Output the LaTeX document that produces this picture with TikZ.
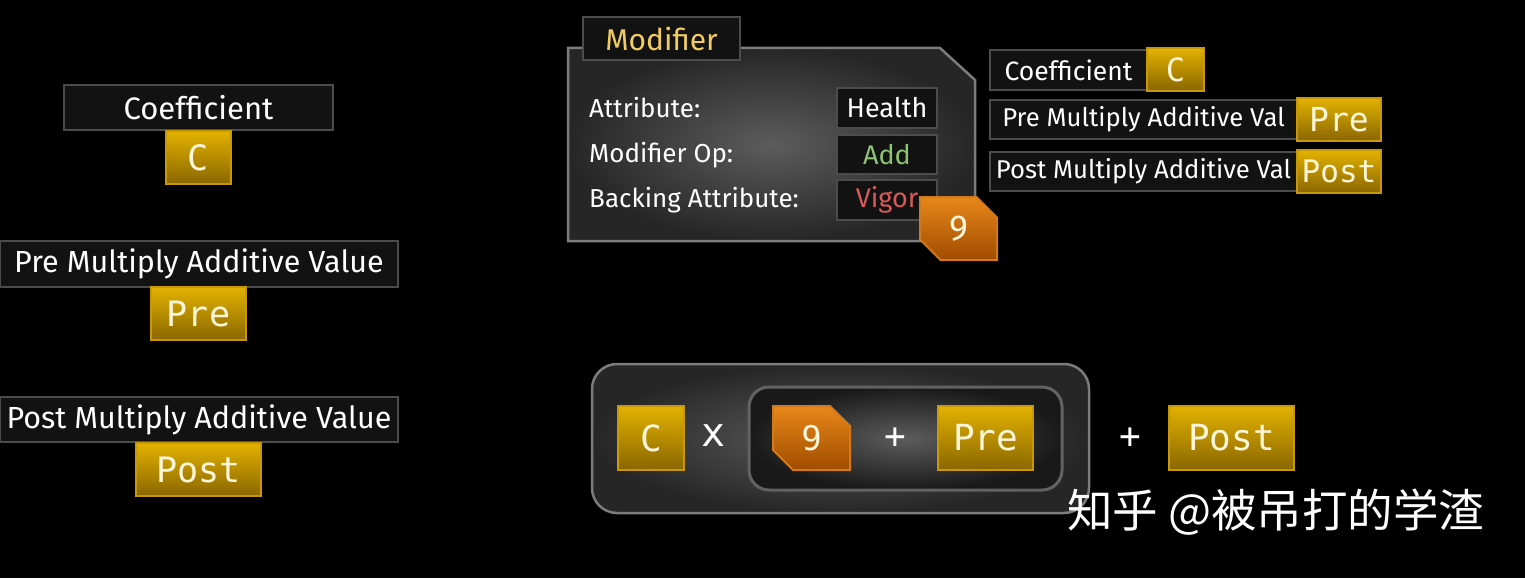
\documentclass[tikz,border=0pt]{standalone}
\usepackage{fontspec}
\setmainfont{Fira Sans}
\newfontfamily\monofont{DejaVu Sans Mono}
\newfontfamily\cjkfont{Noto Sans CJK SC}
\usetikzlibrary{shapes.misc}
\definecolor{gold}{HTML}{E2B200}
\definecolor{golddark}{HTML}{8A6600}
\definecolor{goldedge}{HTML}{C8980A}
\definecolor{cream}{HTML}{FFF6DA}
\definecolor{orangetop}{HTML}{E8881A}
\definecolor{orangebot}{HTML}{A04C00}
\definecolor{orangeedge}{HTML}{D07A20}
\definecolor{panelin}{HTML}{5C5C5C}
\definecolor{panelout}{HTML}{262626}
\definecolor{edge}{HTML}{7C7C7C}
\definecolor{labelfill}{HTML}{121212}
\definecolor{labeledge}{HTML}{4C4C4C}
\definecolor{modyellow}{HTML}{F2CC60}
\definecolor{addgreen}{HTML}{8CC472}
\definecolor{vigorred}{HTML}{D85A5A}
\tikzset{
  lbl/.style={draw=labeledge, line width=2pt, fill=labelfill, text=white, inner sep=0pt},
  goldbox/.style={draw=goldedge, line width=2pt, top color=gold, bottom color=golddark, text=cream, inner sep=0pt},
  ninebox/.style={chamfered rectangle, chamfered rectangle corners={north east,south west},
    chamfered rectangle xsep=11pt, chamfered rectangle ysep=11pt,
    draw=orangeedge, line width=2pt, top color=orangetop, bottom color=orangebot, text=cream, inner sep=0pt},
  panel/.style={draw=edge, line width=2.5pt, shading=radial, inner color=panelin, outer color=panelout},
  plain/.style={text=white, inner sep=0pt},
}
\begin{document}
\begin{tikzpicture}[x=1pt,y=-1pt]
\fill[black] (0,0) rectangle (1525,578);
\useasboundingbox (0,0) rectangle (1525,578);

% left column
\node[lbl, minimum width=269pt, minimum height=45pt, font=\fontsize{31}{33}\selectfont] (coefL) at (198.5,107.5) {Coefficient};
\node[goldbox, minimum width=65pt, minimum height=53pt, font=\monofont\fontsize{35}{37}\selectfont] (cL) at (198.5,157.5) {C};
\node[lbl, minimum width=398pt, minimum height=46pt, font=\fontsize{30.5}{32}\selectfont] (preLabL) at (199,264) {Pre Multiply Additive Value};
\node[goldbox, minimum width=95pt, minimum height=53pt, font=\monofont\fontsize{35}{37}\selectfont] (preL) at (198.5,313.5) {Pre};
\node[lbl, minimum width=398pt, minimum height=45pt, font=\fontsize{30.5}{32}\selectfont] (postLabL) at (199,419.5) {Post Multiply Additive Value};
\node[goldbox, minimum width=125pt, minimum height=53pt, font=\monofont\fontsize{35}{37}\selectfont] (postL) at (198.5,469.5) {Post};

% modifier panel
\path[panel] (568,48) -- (940,48) -- (975,80) -- (975,241) -- (568,241) -- cycle;
\node[lbl, minimum width=157pt, minimum height=43pt, text=modyellow, font=\fontsize{30}{32}\selectfont] (modTab) at (661.5,38.5) {Modifier};
\node[plain, anchor=west, font=\fontsize{26}{28}\selectfont] (attrL) at (589,108) {Attribute:};
\node[plain, anchor=west, font=\fontsize{26}{28}\selectfont] (opL) at (589,155) {Modifier Op:};
\node[plain, anchor=west, font=\fontsize{26}{28}\selectfont] (backL) at (589,200) {Backing Attribute:};
\node[lbl, minimum width=100pt, minimum height=40pt, font=\fontsize{27}{29}\selectfont] (health) at (887,108) {Health};
\node[lbl, minimum width=100pt, minimum height=39pt, text=addgreen, font=\fontsize{27}{29}\selectfont] (add) at (887,154.5) {Add};
\node[lbl, minimum width=100pt, minimum height=40pt, text=vigorred, font=\fontsize{27}{29}\selectfont] (vigor) at (887,200) {Vigor};
\node[ninebox, minimum width=77pt, minimum height=63pt, font=\fontsize{36}{38}\selectfont] (nineM) at (958.5,228.5) {9};

% right list
\node[lbl, minimum width=157pt, minimum height=40pt, font=\fontsize{26.5}{28}\selectfont] (coefR) at (1068.5,70) {Coefficient};
\node[goldbox, minimum width=57pt, minimum height=43pt, font=\monofont\fontsize{32}{34}\selectfont] (cR) at (1175.5,69.5) {C};
\node[lbl, minimum width=307pt, minimum height=39pt, font=\fontsize{25.7}{27}\selectfont] (preLabR) at (1143.5,119.5) {Pre Multiply Additive Val};
\node[goldbox, minimum width=84pt, minimum height=43pt, font=\monofont\fontsize{33}{35}\selectfont] (preR) at (1339,119.5) {Pre};
\node[lbl, minimum width=307pt, minimum height=39pt, font=\fontsize{25.7}{27}\selectfont] (postLabR) at (1143.5,171.5) {Post Multiply Additive Val};
\node[goldbox, minimum width=84pt, minimum height=43pt, font=\monofont\fontsize{31}{33}\selectfont] (postR) at (1339,171.5) {Post};

% equation
\node[panel, rounded corners=25pt, minimum width=497pt, minimum height=149pt] (outerE) at (840.5,438.5) {};
\node[draw=edge!120, line width=3pt, rounded corners=20pt, shading=radial, inner color=panelin, outer color=black!90, minimum width=313pt, minimum height=103pt] (innerE) at (905.5,438.5) {};
\node[goldbox, minimum width=66pt, minimum height=64pt, font=\monofont\fontsize{36}{38}\selectfont] (cE) at (651,438) {C};
\node[plain, font=\monofont\fontsize{40}{42}\selectfont] (timesE) at (714,436) {x};
\node[ninebox, minimum width=77pt, minimum height=64pt, chamfered rectangle xsep=10pt, chamfered rectangle ysep=10pt, font=\monofont\fontsize{34}{36}\selectfont] (nineE) at (811.5,438) {9};
\node[plain, font=\monofont\fontsize{36}{38}\selectfont] (plus1) at (895,438) {+};
\node[goldbox, minimum width=95pt, minimum height=64pt, font=\monofont\fontsize{36}{38}\selectfont] (preE) at (985.5,438) {Pre};
\node[plain, font=\monofont\fontsize{36}{38}\selectfont] (plus2) at (1130,438) {+};
\node[goldbox, minimum width=125pt, minimum height=64pt, font=\monofont\fontsize{36}{38}\selectfont] (postE) at (1231.5,438) {Post};

% watermark
\node[plain, anchor=west, font=\cjkfont\fontsize{45.5}{47}\selectfont] (wm) at (1067,512) {知乎 @被吊打的学渣};
\end{tikzpicture}
\end{document}
